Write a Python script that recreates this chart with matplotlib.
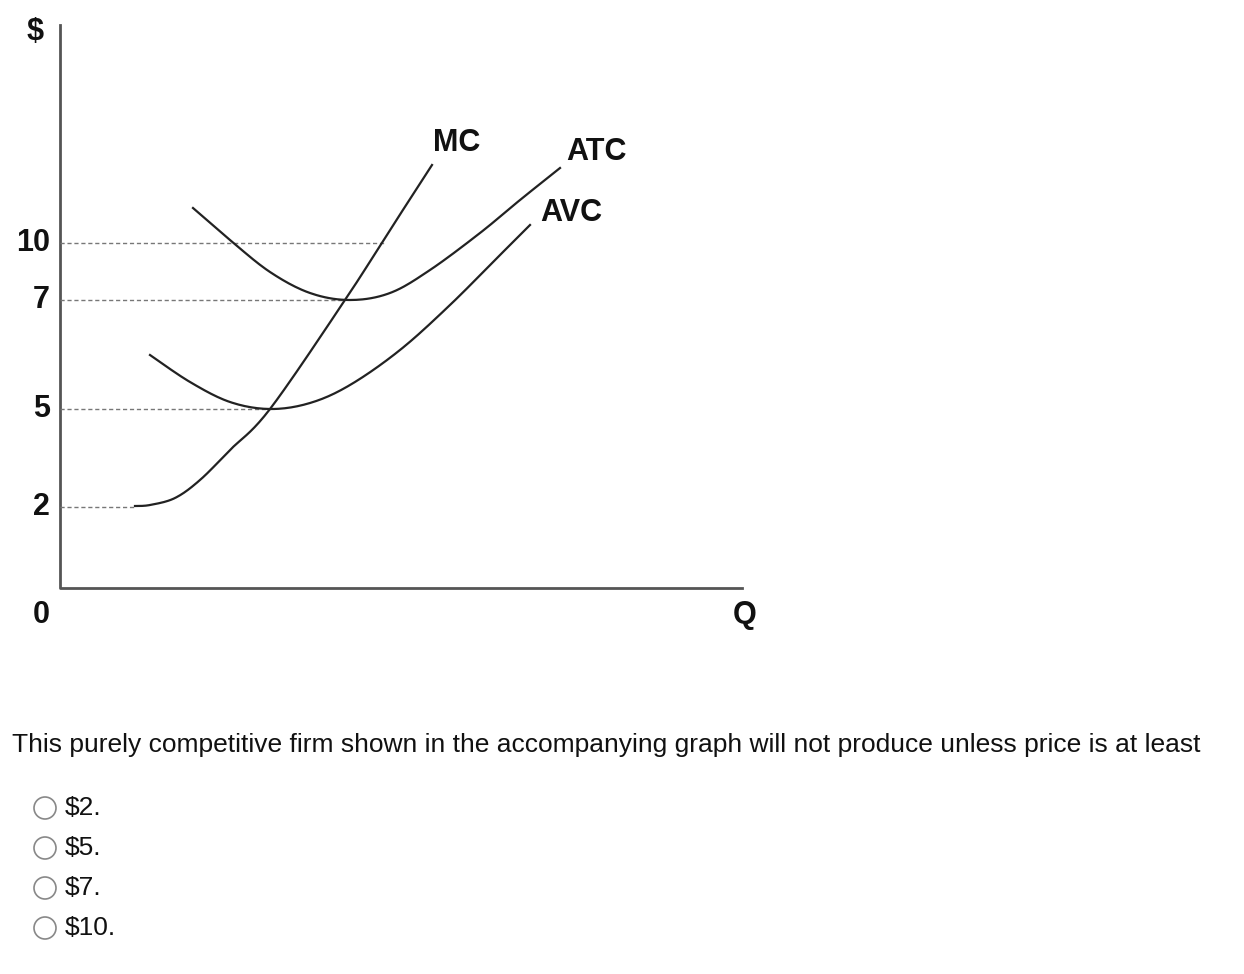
import matplotlib
matplotlib.use("Agg")
import matplotlib.pyplot as plt
import numpy as np
from matplotlib.patches import Circle

W, H = 1244, 974
price_labels = ["10", "7", "5", "2"]
price_px = [243, 300, 409, 507]
dash_end_px = [385, 345, 270, 135]
mc_x = [135, 150, 175, 200, 230, 270, 345, 390, 432]
mc_y = [506, 505, 498, 480, 450, 409, 300, 230, 165]
atc_x = [193, 230, 270, 310, 350, 390, 430, 480, 520, 560]
atc_y = [208, 240, 272, 293, 300, 293, 270, 233, 200, 168]
avc_x = [150, 190, 230, 270, 310, 350, 400, 450, 500, 530]
avc_y = [355, 382, 402, 409, 403, 385, 350, 305, 255, 225]
question = "This purely competitive firm shown in the accompanying graph will not produce unless price is at least"
options = ["$2.", "$5.", "$7.", "$10."]


def catmull(xs, ys, n=20):
    P = np.column_stack([xs, ys]).astype(float)
    P = np.vstack([P[0], P, P[-1]])
    out = []
    t = np.linspace(0, 1, n)[:, None]
    for i in range(1, len(P) - 2):
        p0, p1, p2, p3 = P[i-1], P[i], P[i+1], P[i+2]
        seg = 0.5 * ((2*p1) + (-p0+p2)*t + (2*p0-5*p1+4*p2-p3)*t**2 + (-p0+3*p1-3*p2+p3)*t**3)
        out.append(seg)
    S = np.vstack(out)
    return S[:, 0], S[:, 1]


plt.rcParams['font.family'] = ['Liberation Sans', 'DejaVu Sans']
fig = plt.figure(figsize=(W/100, H/100), dpi=100)
ax = fig.add_axes([0, 0, 1, 1])
ax.set_xlim(0, W); ax.set_ylim(H, 0); ax.axis('off')

ax.plot([60, 60, 742], [25, 588, 588], color='#555', lw=2)
for p, e in zip(price_px, dash_end_px):
    ax.plot([60, e], [p, p], color='#777', lw=1, ls=(0, (3, 2)))
for xs, ys in [(mc_x, mc_y), (atc_x, atc_y), (avc_x, avc_y)]:
    sx, sy = catmull(xs, ys)
    ax.plot(sx, sy, color='#222', lw=1.6)

bold = dict(fontsize=22, fontweight='bold', color='#111', va='center')
for lab, p in zip(price_labels, price_px):
    ax.text(50, p, lab, ha='right', **bold)
ax.text(50, 615, "0", ha='right', **bold)
ax.text(35, 32, "$", ha='center', **bold)
ax.text(745, 615, "Q", ha='center', **bold)
ax.text(457, 143, "MC", ha='center', **bold)
ax.text(566, 152, "ATC", ha='left', **bold)
ax.text(540, 213, "AVC", ha='left', **bold)

ax.text(12, 745, question, fontsize=19, va='center', color='#111')
for i, o in enumerate(options):
    y = 808 + 40 * i
    ax.add_patch(Circle((45, y), 11, fill=False, ec='#888', lw=1.2))
    ax.text(65, y, o, fontsize=19, va='center', color='#111')

fig.savefig("out.png", dpi=100)
